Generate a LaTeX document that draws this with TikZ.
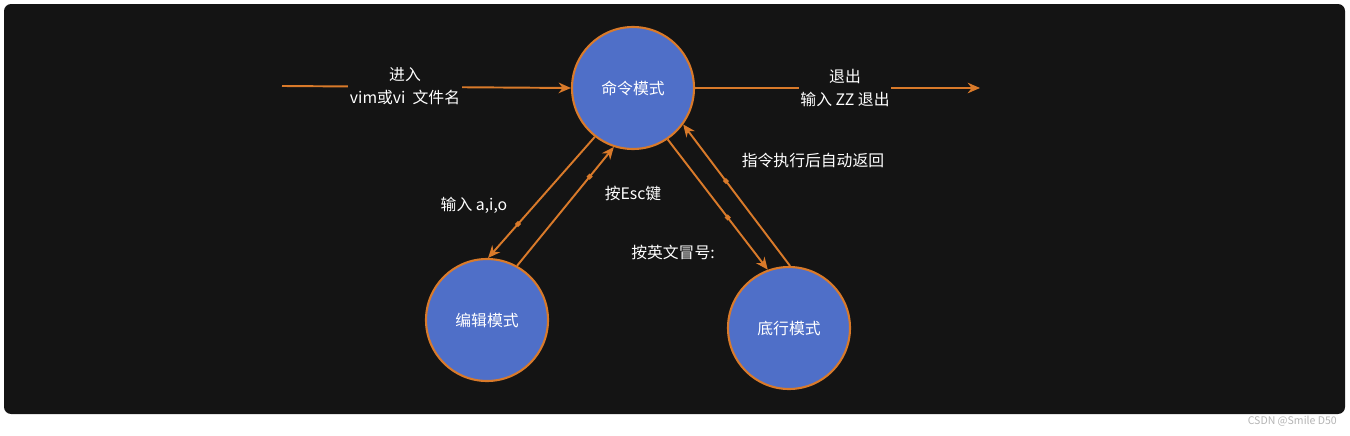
\documentclass[tikz,border=0pt]{standalone}
\usepackage{fontspec}
\setmainfont{Noto Sans CJK SC}
\usetikzlibrary{positioning, calc, arrows.meta, shapes.geometric}
\definecolor{bgdark}{RGB}{20,20,20}
\definecolor{modeblue}{RGB}{79,111,200}
\definecolor{linkorange}{RGB}{217,122,42}
\definecolor{marktext}{RGB}{180,180,180}
\begin{document}
\begin{tikzpicture}[x=0.02cm, y=-0.02cm,
    mode/.style={circle, draw=linkorange, line width=1.2pt, fill=modeblue, text=white, minimum size=2.44cm, inner sep=0pt, font=\fontsize{9}{11}\selectfont},
    link/.style={-{Stealth[length=7pt,width=6pt]}, draw=linkorange, line width=1.1pt},
    lbl/.style={text=white, font=\fontsize{9}{13}\selectfont, align=center, inner sep=1pt},
    dot/.style={diamond, fill=linkorange, inner sep=0pt, minimum size=4pt}]
    \useasboundingbox (0,0) rectangle (1350,436);
    % Background panel
    \fill[bgdark, rounded corners=4pt] (4,4) rectangle (1345,414);
    \node[text=marktext, font=\fontsize{6}{7}\selectfont, anchor=east] (mark) at (1343,421) {CSDN @Smile D50};

    % Modes
    \node[mode] (cmd) at (633,88) {命令模式};
    \node[mode] (edit) at (487,320) {编辑模式};
    \node[mode] (last) at (789,328) {底行模式};

    % Enter and quit
    \coordinate (start) at (282,86);
    \coordinate (stop) at (980,88);
    \draw[link] (start) -- (cmd.180);
    \draw[link] (cmd.0) -- (stop);
    \node[lbl, fill=bgdark] (enter) at (405,86) {进入\\vim或vi\ \ 文件名};
    \node[lbl, fill=bgdark] (quit) at (845,88) {退出\\输入 ZZ 退出};

    % Switching between modes
    \draw[link] (cmd.232) -- node[dot, pos=0.72] {} (edit.89);
    \draw[link] (edit.61) -- node[dot, pos=0.75] {} (cmd.252);
    \draw[link] (cmd.304) -- node[dot, pos=0.6] {} (last.110);
    \draw[link] (last.89) -- node[dot, pos=0.6] {} (cmd.324);

    % Labels
    \node[lbl] (toedit) at (474,205) {输入 a,i,o};
    \node[lbl] (esc) at (633,193) {按Esc键};
    \node[lbl] (colon) at (673,252) {按英文冒号:};
    \node[lbl] (back) at (813,160) {指令执行后自动返回};
\end{tikzpicture}
\end{document}
